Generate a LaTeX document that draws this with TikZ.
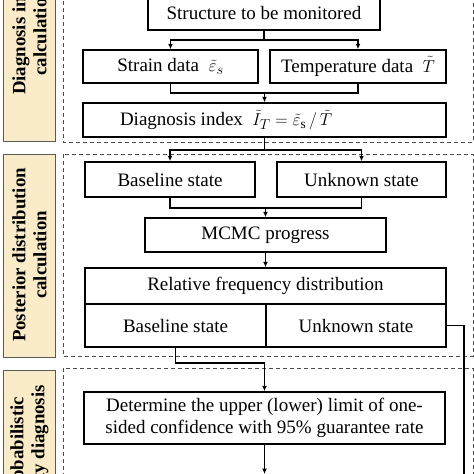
\documentclass[tikz,border=0pt]{standalone}
\usepackage{fontspec}
\setmainfont{Liberation Serif}
\usetikzlibrary{arrows.meta}
\definecolor{labfill}{RGB}{250,236,200}
\begin{document}
\begin{tikzpicture}[x=1pt,y=-1pt,
  box/.style={draw=black,line width=1.5pt,inner sep=0pt,font=\fontsize{19}{22}\selectfont,align=center},
  labbox/.style={draw=black!65,line width=0.9pt,fill=labfill},
  labtext/.style={rotate=90,font=\fontsize{18.8}{21}\selectfont\bfseries,align=center,inner sep=0pt},
  dbox/.style={draw=black!70,line width=1pt,dash pattern=on 4pt off 3pt},
  conn/.style={line width=1.5pt},
  arr/.style={conn,-{Latex[length=5.5pt,width=5pt]}}]
\useasboundingbox (0,0) rectangle (474,474);
\clip (0,0) rectangle (474,474);
% section labels
\draw[labbox] (3,-80) rectangle (55,141);
\draw[labbox] (3,154) rectangle (55,357);
\draw[labbox] (3,370) rectangle (55,560);
\node[labtext,anchor=west] (l1) at (29.5,95) {Diagnosis index\\calculation};
\node[labtext] (l2) at (29.5,255) {Posterior distribution\\calculation};
\node[labtext,anchor=east] (l3) at (29.5,385) {Probabilistic\\safety diagnosis};
% dashed frames
\draw[dbox] (63,-20) rectangle (473,142);
\draw[dbox] (63,154) rectangle (473,356);
\draw[dbox] (63,368) rectangle (473,560);
% boxes
\node[box,minimum width=232pt,minimum height=34pt] (struct) at (264,13) {Structure to be monitored};
\node[box,minimum width=175pt,minimum height=33pt] (strain) at (170.5,66.5) {Strain data \ $\tilde{\varepsilon}_s$};
\node[box,minimum width=176pt,minimum height=33pt] (temp) at (358,66.5) {Temperature data \ $\tilde{T}$};
\node[box,minimum width=363pt,minimum height=34pt] (diag) at (264.5,120) {\makebox[363pt][l]{\hspace{37pt}Diagnosis index \ $\tilde{I}_T=\tilde{\varepsilon}_{\mathrm{s}}\,/\,\tilde{T}$}};
\node[box,minimum width=170pt,minimum height=35pt] (base1) at (170,179.5) {Baseline state};
\node[box,minimum width=169pt,minimum height=35pt] (unk1) at (361.5,179.5) {Unknown state};
\node[box,minimum width=241pt,minimum height=34pt] (mcmc) at (265.5,235) {MCMC progress};
\node[box,minimum width=361pt,minimum height=36pt] (rfd) at (265.5,286) {Relative frequency distribution};
\node[box,minimum width=181pt,minimum height=43pt] (base2) at (175.5,325.5) {Baseline state};
\node[box,minimum width=180pt,minimum height=43pt] (unk2) at (356,325.5) {Unknown state};
\node[box,minimum width=361pt,minimum height=52pt] (det) at (264.5,418) {Determine the upper (lower) limit of one-\\sided confidence with 95\% guarantee rate};
% junction coordinates
\coordinate (j1) at (264,40);
\coordinate (j2) at (264.5,93);
\coordinate (j3) at (264.5,150);
\coordinate (j4) at (265.5,208);
\coordinate (j5) at (264.5,363);
\coordinate (j6) at (464,500);
\coordinate (j7) at (264.5,474);
% connectors
\draw[conn] (struct.south) -- (j1);
\draw[arr] (j1) -| (strain.north);
\draw[arr] (j1) -| (temp.north);
\draw[conn] (strain.south) |- (j2) -| (temp.south);
\draw[arr] (j2) -- (diag.north);
\draw[conn] (diag.south) -- (j3);
\draw[arr] (j3) -| (base1.north);
\draw[arr] (j3) -| (unk1.north);
\draw[conn] (base1.south) |- (j4) -| (unk1.south);
\draw[arr] (j4) -- (mcmc.north);
\draw[arr] (mcmc.south) -- (rfd.north);
\draw[arr] (base2.south) |- (j5) -- (det.north);
\draw[conn] (unk2.east) -| (j6);
\draw[arr] (det.south) -- (j7);
\end{tikzpicture}
\end{document}
